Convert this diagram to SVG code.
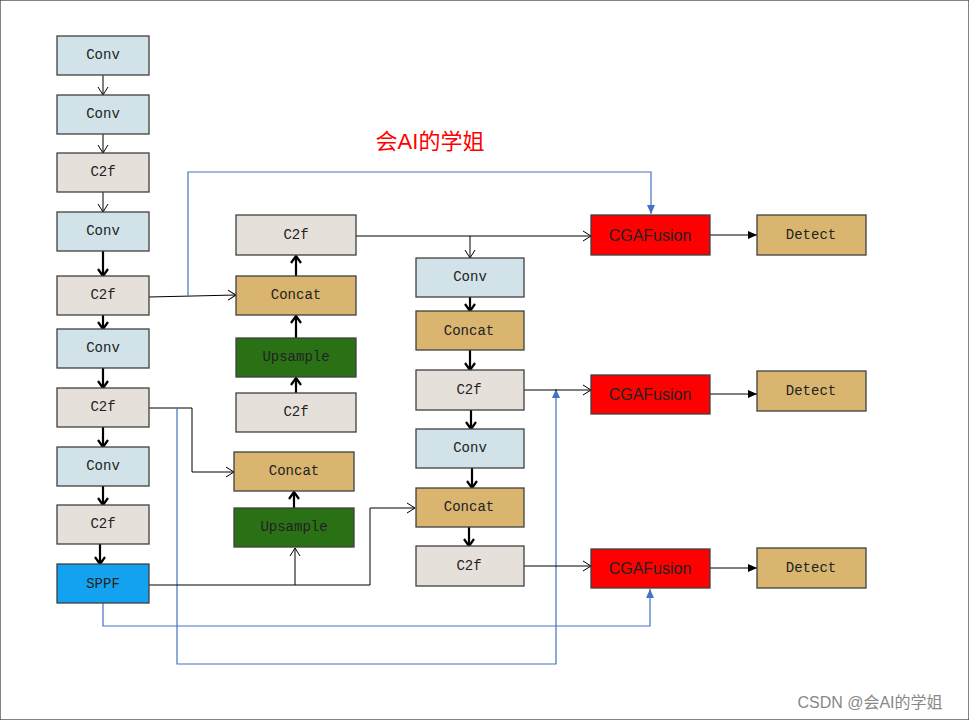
<svg xmlns="http://www.w3.org/2000/svg" width="969" height="720" viewBox="0 0 969 720">
<style>
rect{stroke:#404040;stroke-width:1.3}
.conv{fill:#d1e3e9}.c2f{fill:#e5e0da}.cat{fill:#d9b570}.up{fill:#2a7115}.sppf{fill:#12a2ef}.cga{fill:#ff0000}.det{fill:#d9b570}
text{font-family:"Liberation Mono",monospace;font-size:14px;text-anchor:middle;dominant-baseline:central;fill:#222}
.s{font-family:"Liberation Sans",Arial,sans-serif;font-size:16px}
.th{fill:none;stroke:#000;stroke-width:1}
.tk{fill:none;stroke:#000;stroke-width:2.2}
.bl{fill:none;stroke:#4472c4;stroke-width:1.2}
</style>
<defs>
<marker id="o" markerWidth="12" markerHeight="12" refX="10" refY="6" orient="auto" markerUnits="userSpaceOnUse"><path d="M2,1 L10,6 L2,11" fill="none" stroke="#000" stroke-width="1"/></marker>
<marker id="k" markerWidth="12" markerHeight="12" refX="10" refY="6" orient="auto" markerUnits="userSpaceOnUse"><path d="M3,1 L10,6 L3,11" fill="none" stroke="#000" stroke-width="2.2"/></marker>
<marker id="f" markerWidth="10" markerHeight="10" refX="9" refY="5" orient="auto" markerUnits="userSpaceOnUse"><path d="M0,1 L9,5 L0,9Z" fill="#000"/></marker>
<marker id="b" markerWidth="10" markerHeight="10" refX="9" refY="5" orient="auto" markerUnits="userSpaceOnUse"><path d="M0,1 L9,5 L0,9Z" fill="#4472c4"/></marker>
</defs>
<rect x="0" y="0" width="969" height="720" fill="#fff" stroke="none"/>
<g id="connectors">
<path class="th" d="M103,75V95" marker-end="url(#o)"/>
<path class="th" d="M103,134V153" marker-end="url(#o)"/>
<path class="th" d="M103,192V212" marker-end="url(#o)"/>
<path class="tk" d="M103,251V276" marker-end="url(#k)"/>
<path class="tk" d="M103,315V329" marker-end="url(#k)"/>
<path class="tk" d="M103,368V388" marker-end="url(#k)"/>
<path class="tk" d="M103,427V447" marker-end="url(#k)"/>
<path class="tk" d="M103,486V505" marker-end="url(#k)"/>
<path class="tk" d="M100,544V564" marker-end="url(#k)"/>
<path class="th" d="M149,297L236,295" marker-end="url(#o)"/>
<path class="bl" d="M188,297V172H651V214" marker-end="url(#b)"/>
<path class="tk" d="M296,276V256" marker-end="url(#k)"/>
<path class="tk" d="M296,338V316" marker-end="url(#k)"/>
<path class="tk" d="M296,393V378" marker-end="url(#k)"/>
<path class="th" d="M149,408H192V472H234" marker-end="url(#o)"/>
<path class="bl" d="M177,408V664H556V389" marker-end="url(#b)"/>
<path class="tk" d="M294,508V492" marker-end="url(#k)"/>
<path class="th" d="M149,585H370V508H415" marker-end="url(#o)"/>
<path class="th" d="M295,585V548" marker-end="url(#o)"/>
<path class="bl" d="M103,603V626H650V589" marker-end="url(#b)"/>
<path class="th" d="M356,236H591" marker-end="url(#o)"/>
<path class="th" d="M470,236V258" marker-end="url(#o)"/>
<path class="tk" d="M470,297V311" marker-end="url(#k)"/>
<path class="tk" d="M470,350V370" marker-end="url(#k)"/>
<path class="tk" d="M471,410V429" marker-end="url(#k)"/>
<path class="tk" d="M472,468V488" marker-end="url(#k)"/>
<path class="tk" d="M469,527V546" marker-end="url(#k)"/>
<path class="th" d="M524,390H591" marker-end="url(#o)"/>
<path class="th" d="M524,566H591" marker-end="url(#o)"/>
<path class="th" d="M710,235H757" marker-end="url(#f)"/>
<path class="th" d="M710,394H757" marker-end="url(#f)"/>
<path class="th" d="M710,568H757" marker-end="url(#f)"/>
</g>
<g id="n1"><rect class="conv" x="57" y="36" width="92" height="39"/><text x="103" y="55">Conv</text></g>
<g id="n2"><rect class="conv" x="57" y="95" width="92" height="39"/><text x="103" y="114">Conv</text></g>
<g id="n3"><rect class="c2f" x="57" y="153" width="92" height="39"/><text x="103" y="172">C2f</text></g>
<g id="n4"><rect class="conv" x="57" y="212" width="92" height="39"/><text x="103" y="231">Conv</text></g>
<g id="n5"><rect class="c2f" x="57" y="276" width="92" height="39"/><text x="103" y="295">C2f</text></g>
<g id="n6"><rect class="conv" x="57" y="329" width="92" height="39"/><text x="103" y="348">Conv</text></g>
<g id="n7"><rect class="c2f" x="57" y="388" width="92" height="39"/><text x="103" y="407">C2f</text></g>
<g id="n8"><rect class="conv" x="57" y="447" width="92" height="39"/><text x="103" y="466">Conv</text></g>
<g id="n9"><rect class="c2f" x="57" y="505" width="92" height="39"/><text x="103" y="524">C2f</text></g>
<g id="n10"><rect class="sppf" x="57" y="564" width="92" height="39"/><text x="103" y="584">SPPF</text></g>
<g id="m1"><rect class="c2f" x="236" y="215" width="120" height="40"/><text x="296" y="235">C2f</text></g>
<g id="m2"><rect class="cat" x="236" y="276" width="120" height="39"/><text x="296" y="295">Concat</text></g>
<g id="m3"><rect class="up" x="236" y="338" width="120" height="39"/><text x="296" y="357">Upsample</text></g>
<g id="m4"><rect class="c2f" x="236" y="393" width="120" height="39"/><text x="296" y="412">C2f</text></g>
<g id="m5"><rect class="cat" x="234" y="452" width="120" height="39"/><text x="294" y="471">Concat</text></g>
<g id="m6"><rect class="up" x="234" y="508" width="120" height="39"/><text x="294" y="527">Upsample</text></g>
<g id="r1"><rect class="conv" x="416" y="258" width="108" height="39"/><text x="470" y="277">Conv</text></g>
<g id="r2"><rect class="cat" x="416" y="311" width="108" height="39"/><text x="469" y="331">Concat</text></g>
<g id="r3"><rect class="c2f" x="416" y="370" width="108" height="40"/><text x="469" y="390">C2f</text></g>
<g id="r4"><rect class="conv" x="416" y="429" width="108" height="39"/><text x="470" y="448">Conv</text></g>
<g id="r5"><rect class="cat" x="416" y="488" width="108" height="39"/><text x="469" y="507">Concat</text></g>
<g id="r6"><rect class="c2f" x="416" y="546" width="108" height="40"/><text x="469" y="566">C2f</text></g>
<g id="g1"><rect class="cga" x="591" y="215" width="119" height="40"/><text class="s" x="650" y="235">CGAFusion</text></g>
<g id="g2"><rect class="cga" x="591" y="375" width="119" height="39"/><text class="s" x="650" y="394">CGAFusion</text></g>
<g id="g3"><rect class="cga" x="591" y="549" width="119" height="39"/><text class="s" x="650" y="568">CGAFusion</text></g>
<g id="d1"><rect class="det" x="757" y="215" width="109" height="40"/><text x="811" y="235">Detect</text></g>
<g id="d2"><rect class="det" x="757" y="371" width="109" height="40"/><text x="811" y="391">Detect</text></g>
<g id="d3"><rect class="det" x="757" y="548" width="109" height="40"/><text x="811" y="568">Detect</text></g>
<text x="430" y="141" style="font-family:'Liberation Sans','Noto Sans CJK SC',sans-serif;font-size:22px;fill:#ff0000">会AI的学姐</text>
<text x="870" y="702" style="font-family:'Liberation Sans','Noto Sans CJK SC',sans-serif;font-size:16px;fill:#888">CSDN @会AI的学姐</text>
</svg>
